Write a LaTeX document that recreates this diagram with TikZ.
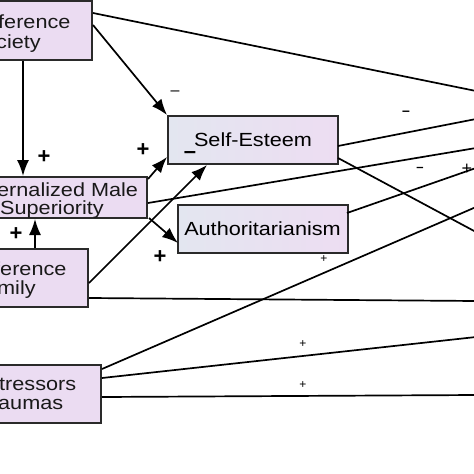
\documentclass[tikz,border=0pt]{standalone}
\usepackage{fontspec}
\setmainfont[FakeStretch=1.14]{Liberation Sans}
\newfontfamily\signfont{Liberation Sans}
\usetikzlibrary{arrows.meta}
\definecolor{lav}{HTML}{EBDCF2}
\definecolor{lavR}{HTML}{EDDDF2}
\definecolor{bluL}{HTML}{E3E6F0}
\definecolor{edge}{HTML}{2A2A2A}
\tikzset{
  leftbox/.style={draw=edge,line width=2pt,fill=lav},
  rightbox/.style={draw=edge,line width=2pt,left color=bluL,right color=lavR,
    minimum width=170pt,minimum height=48pt,inner sep=0pt,font=\fontsize{19}{19}\selectfont},
  boxtext/.style={inner sep=0pt,font=\fontsize{19}{19}\selectfont,text=black!90},
  conn/.style={line width=1.7pt,black},
  arr/.style={conn,-{Latex[length=16pt,width=12pt]}},
  bigsign/.style={inner sep=0pt,font=\signfont\bfseries\fontsize{22}{22}\selectfont},
  smallsign/.style={inner sep=0pt,font=\signfont\fontsize{12}{12}\selectfont},
}
\begin{document}
\begin{tikzpicture}[x=1pt,y=-1pt]
\useasboundingbox (0,0) rectangle (474,474);
\fill[white] (0,0) rectangle (474,474);
% left boxes (cut by the picture edge)
\draw[leftbox] (-10,1) rectangle (92,60);
\node[boxtext,anchor=base west] (t1a) at (-2,28) {ference};
\node[boxtext,anchor=base west] (t1b) at (-4,48) {ciety};
\draw[leftbox] (-10,177) rectangle (147,218);
\node[boxtext,anchor=base west] (t2a) at (-3,196) {ernalized Male};
\node[boxtext,anchor=base west] (t2b) at (0,214) {Superiority};
\draw[leftbox] (-10,249) rectangle (88,307);
\node[boxtext,anchor=base west] (t3a) at (-6,275) {ference};
\node[boxtext,anchor=base west] (t3b) at (-3,294) {mily};
\draw[leftbox] (-10,365) rectangle (101,423);
\node[boxtext,anchor=base west] (t4a) at (-1,390) {tressors};
\node[boxtext,anchor=base west] (t4b) at (-2,409) {aumas};
% right boxes
\node[rightbox] (se) at (253,140) {Self-Esteem};
\node[rightbox] (au) at (262.5,229) {Authoritarianism};
% anchor coordinates on the left boxes
\coordinate (socR1) at (93,13);
\coordinate (socR2) at (93,25);
\coordinate (socB) at (23,61);
\coordinate (malT) at (23,176);
\coordinate (malR1) at (148,179);
\coordinate (malR2) at (148,203);
\coordinate (malBR) at (149,218);
\coordinate (malB) at (35,219);
\coordinate (famT) at (35,248);
\coordinate (famR1) at (89,283);
\coordinate (famR2) at (89,298);
\coordinate (strR1) at (102,369);
\coordinate (strR2) at (102,378);
\coordinate (strR3) at (102,397);
\coordinate (seL) at (167,157);
\coordinate (seB) at (207,165);
\coordinate (seR1) at (338,146);
\coordinate (seR2) at (338,158);
\coordinate (auL) at (178,243);
\coordinate (auR) at (347,213);
% free ends at the right edge
\coordinate (e1) at (476,91);
\coordinate (e2) at (476,119);
\coordinate (e3) at (476,148);
\coordinate (e4) at (476,168);
\coordinate (e5) at (476,207);
\coordinate (e6) at (476,232);
\coordinate (e7) at (476,301);
\coordinate (e8) at (476,337);
\coordinate (e9) at (476,395);
% plain connectors
\draw[conn] (socR1) -- (e1);
\draw[conn] (malR2) -- (e3);
\draw[conn] (famR2) -- (e7);
\draw[conn] (strR1) -- (e5);
\draw[conn] (strR2) -- (e8);
\draw[conn] (strR3) -- (e9);
\draw[conn] (seR1) -- (e2);
\draw[conn] (seR2) -- (e6);
\draw[conn] (auR) -- (e4);
% arrows
\draw[arr] (socR2) -- (se.north west);
\draw[arr] (socB) -- (malT);
\draw[arr] (famT) -- (malB);
\draw[arr] (malR1) -- (seL);
\draw[arr] (malBR) -- (auL);
\draw[arr] (famR1) -- (seB);
% signs
\node[smallsign] (s1) at (175,93) {\fontsize{16}{16}\selectfont –};
\node[bigsign] (s2) at (143,150) {+};
\node[bigsign] (s3) at (190,155) {–};
\node[bigsign] (s4) at (44,157) {+};
\node[bigsign] (s5) at (16,234) {+};
\node[bigsign] (s6) at (160,257) {+};
\node[smallsign] (s7) at (406,113) {\bfseries\fontsize{14}{14}\selectfont –};
\node[smallsign] (s8) at (420,169) {\bfseries\fontsize{13}{13}\selectfont –};
\node[smallsign] (s9) at (467,169) {\fontsize{18}{18}\selectfont +};
\node[smallsign] (s10) at (324,259) {+};
\node[smallsign] (s11) at (303,344) {+};
\node[smallsign] (s12) at (303,385) {+};
\end{tikzpicture}
\end{document}
